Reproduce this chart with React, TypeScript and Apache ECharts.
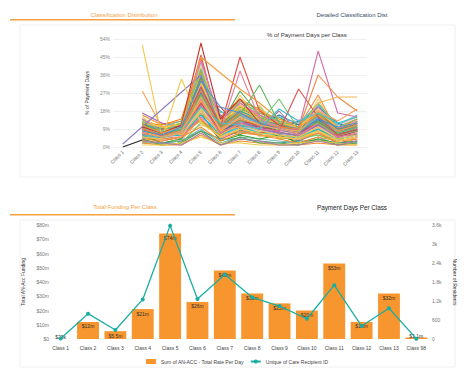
import React, { useEffect, useRef } from "react";
import * as echarts from "echarts";

const topClasses = ["Class 1", "Class 2", "Class 3", "Class 4", "Class 5", "Class 6", "Class 7", "Class 8", "Class 9", "Class 10", "Class 11", "Class 12", "Class 13"];

// % of payment days per class, one row per recipient line
const paymentDaysPct: (number | null)[][] = [
  [null, 12, 7, 9, 28, 11, 17, 13, 9, 7, 14, 6, 9],
  [null, 9, 5, 7, 22, 7, 13, 10, 8, 6, 11, 5, 7],
  [null, 7, 4, 6, 18, 6, 11, 8, 6, 4, 9, 3, 5],
  [null, 14, 10, 12, 34, 13, 21, 16, 12, 10, 18, 8, 12],
  [null, 5, 3, 5, 14, 4, 8, 6, 5, 3, 7, 2, 4],
  [null, 3, 2, 3, 9, 2, 5, 4, 3, 2, 5, 1, 3],
  [null, 16, 11, 13, 38, 15, 24, 18, 14, 11, 21, 10, 14],
  [null, 10, 8, 4, 24, 9, 6, 12, 15, 9, 8, 7, 11],
  [null, 8, 12, 6, 30, 5, 15, 7, 10, 12, 16, 4, 9],
  [null, 6, 9, 11, 26, 12, 10, 14, 6, 8, 22, 9, 6],
  [null, 11, 6, 3, 16, 10, 19, 8, 12, 5, 13, 11, 15],
  [null, 4, 7, 9, 20, 16, 8, 11, 9, 13, 10, 6, 12],
  [null, 13, 5, 8, 42, 7, 12, 9, 5, 6, 19, 3, 8],
  [null, 2, 4, 6, 11, 8, 14, 5, 8, 4, 7, 5, 2],
  [null, 9, 3, 10, 32, 4, 18, 20, 11, 7, 14, 8, 10],
  [null, 7, 10, 4, 23, 13, 7, 9, 13, 10, 12, 4, 7],
  [null, 15, 8, 7, 36, 9, 26, 13, 9, 6, 24, 7, 13],
  [null, 5, 6, 12, 19, 6, 16, 10, 7, 9, 9, 10, 5],
  [null, 11, 9, 5, 27, 18, 11, 6, 10, 3, 17, 5, 9],
  [null, 3, 5, 7, 13, 5, 9, 12, 4, 6, 6, 3, 11],
  [null, 6, 2, 4, 17, 3, 6, 4, 6, 2, 4, 2, 3],
  [null, 12, 11, 14, 44, 11, 20, 17, 13, 8, 15, 9, 14],
  [null, 8, 6, 9, 29, 8, 13, 11, 16, 11, 20, 12, 8],
  [null, 10, 4, 6, 21, 20, 9, 7, 8, 5, 11, 6, 6],
  [null, 4, 8, 5, 15, 7, 22, 15, 9, 7, 13, 4, 10],
  [null, 17, 12, 10, 39, 12, 16, 10, 7, 9, 14, 8, 12],
  [null, 7, 3, 8, 25, 5, 10, 8, 11, 14, 9, 6, 4],
  [null, 2, 2, 3, 8, 4, 4, 3, 2, 3, 3, 2, 2],
  [null, 9, 7, 12, 33, 14, 23, 19, 12, 10, 26, 7, 11],
  [null, 6, 5, 2, 12, 6, 8, 6, 5, 4, 6, 3, 5],
  [null, 13, 9, 8, 31, 7, 17, 12, 15, 12, 21, 11, 16],
  [null, 5, 4, 7, 18, 10, 12, 9, 6, 5, 8, 5, 7],
  [null, 11, 8, 10, 46, 9, 14, 11, 9, 7, 17, 9, 10],
  [null, 8, 10, 13, 37, 17, 19, 14, 10, 8, 16, 7, 13],
  [null, 3, 3, 5, 10, 3, 7, 6, 4, 2, 5, 3, 4],
  [null, 14, 7, 11, 26, 11, 28, 16, 11, 9, 13, 6, 8],
  [null, 10, 6, 5, 22, 8, 10, 21, 8, 6, 12, 8, 9],
  [null, 7, 9, 8, 35, 6, 13, 9, 18, 7, 15, 5, 12],
  [null, 10, 7, 9, 31, 9, 16, 12, 10, 8, 15, 7, 10],
  [null, 12, 9, 11, 27, 12, 19, 15, 11, 9, 17, 9, 12],
  [null, 6, 4, 6, 19, 5, 10, 8, 7, 5, 10, 4, 6],
  [null, 8, 6, 8, 24, 8, 14, 10, 9, 7, 13, 6, 9],
  [null, 11, 8, 7, 33, 10, 18, 13, 10, 8, 16, 8, 11],
  [null, 9, 7, 10, 29, 11, 16, 12, 9, 7, 14, 7, 9],
  [null, 13, 10, 9, 40, 12, 21, 14, 11, 10, 19, 9, 13],
  [null, 7, 5, 7, 21, 7, 11, 9, 7, 6, 11, 5, 7],
  [null, 5, 5, 6, 16, 6, 10, 7, 6, 5, 9, 4, 6],
  [null, 10, 8, 12, 37, 10, 20, 15, 12, 9, 17, 8, 11],
  [null, 12, 6, 8, 25, 6, 14, 11, 8, 6, 12, 6, 8],
  [null, 8, 9, 7, 34, 11, 17, 13, 10, 8, 18, 9, 12],
  [null, 9, 5, 9, 28, 8, 12, 10, 8, 6, 14, 5, 9],
  [null, 6, 7, 8, 22, 9, 13, 11, 9, 7, 12, 7, 8],
  [null, 14, 8, 10, 43, 13, 22, 16, 12, 9, 20, 9, 13],
  [null, 11, 7, 8, 30, 9, 15, 12, 10, 8, 15, 8, 10],
  [null, 7, 6, 5, 20, 7, 12, 9, 8, 6, 10, 6, 7],
  [null, 10, 9, 10, 35, 10, 18, 14, 11, 9, 16, 9, 11],
  [null, 4, 4, 5, 14, 5, 8, 6, 5, 4, 7, 3, 5],
  [null, 13, 8, 12, 39, 11, 23, 17, 13, 10, 22, 10, 14],
  [null, 8, 7, 9, 26, 9, 15, 12, 9, 7, 13, 7, 9],
  [null, 12, 10, 11, 32, 13, 19, 14, 12, 10, 18, 10, 12],
  [null, 6, 6, 7, 23, 6, 12, 9, 7, 6, 11, 6, 8],
  [null, 9, 8, 8, 30, 10, 16, 13, 10, 8, 15, 7, 10],
  [null, 2, 1, 1, 6, 1, 3, 2, 1, 1, 2, 1, 1],
  [null, 4, 1, 2, 8, 1, 5, 2, 2, 1, 4, 1, 2],
  [null, 1, 1, 2, 5, 2, 2, 1, 1, 2, 3, 2, 1],
  [null, 3, 2, 1, 7, 1, 4, 3, 1, 1, 3, 1, 3],
];

// highlighted outlier lines
const outlierPct: (number | null)[][] = [
  [null, 51, 5, 7, 19, 6, 12, 8, 6, 5, 10, 4, 6],
  [null, 28, 10, 6, 17, 8, 10, 6, 5, 4, 8, 3, 5],
  [1.5, null, null, null, 36, 9, 13, 9, 7, 6, 11, 5, 8],
  [0, 3.5, null, null, null, null, null, null, null, null, null, null, null],
  [null, 5, 4, 34, 12, 5, 9, 7, 5, 4, 8, 3, 5],
  [null, 10, 7, 11, 52, 14, 24, 12, 9, 7, 13, 5, 8],
  [null, 9, 6, 8, 30, 10, 45, 18, 11, 8, 12, 6, 9],
  [null, 7, 5, 7, 24, 8, 38, 14, 10, 6, 12, 5, 7],
  [null, 11, 7, 10, 45, null, 29, 22, 14, 10, 16, 8, 11],
  [null, 8, 6, 9, 26, 10, 16, 31, 12, 8, 13, 7, 10],
  [null, 6, 5, 7, 20, 9, 13, 12, 24, 9, 12, 6, 8],
  [null, 7, 6, 8, 22, 8, 14, 10, 8, 29, 15, 6, 9],
  [null, 6, 5, 7, 21, 7, 12, 9, 8, 9, 48, 17, 15],
  [null, 9, 6, 8, 28, 9, 17, 12, 10, 9, 36, 25, 18],
  [null, 8, 5, 7, 25, 8, 15, 11, 9, 8, 22, 25, 25],
  [null, 6, 5, 8, 20, 12, 11, 9, 19, 13, 17, 12, 15],
  [null, 8, 6, 10, 33, 20, 17, 12, 9, 7, 14, 10, 12],
  [null, 7, 5, 8, 23, 9, 14, 11, 9, 7, 18, 13, 19],
];
const outlierColors = [
  "#f5c242", "#f7a84a", "#8e7cc3", "#222222", "#f3c84b", "#c0392b", "#e74c3c", "#e57fa0", "#f39c3d",
  "#5cb85c", "#6cc46a", "#d9534f", "#d36fa6", "#f0883e", "#f7b55a", "#3fc1d0", "#4a90d9", "#f4a261",
];

const lineColors = [
  "#f58a3f", "#7ac36a", "#5bc0de", "#f5c242", "#e15759", "#76b7b2", "#f28e2b", "#59a14f",
  "#edc948", "#b07aa1", "#ff9da7", "#4e79a7", "#a0cbe8", "#ffbe7d", "#8cd17d", "#86bcb6",
  "#f1ce63", "#d37295", "#17becf", "#bcbd22", "#2ca02c", "#ff7f0e", "#1f77b4", "#d62728",
  "#e377c2", "#9467bd", "#fabfd2", "#499894",
];

const bottomClasses = ["Class 1", "Class 2", "Class 3", "Class 4", "Class 5", "Class 6", "Class 7", "Class 8", "Class 9", "Class 10", "Class 11", "Class 12", "Class 13", "Class 98"];
const fundingMillions = [0.029, 12, 5.5, 21, 74, 26, 48, 32, 25, 20, 53, 12, 32, 1.1];
const residents = [15, 800, 285, 1250, 3580, 1260, 2040, 1315, 1040, 640, 1700, 410, 970, 10];

const FONT = "'Liberation Sans', Arial, sans-serif";
const ORANGE = "#f7962e";
const TEAL = "#1aaea3";
const TAB_ORANGE = "#f5a142";

function fmtFunding(v: number) {
  if (v < 1) return `$${Math.round(v * 1000)}k`;
  return `$${v}m`;
}

export default function App() {
  const ref = useRef<HTMLDivElement>(null);
  useEffect(() => {
    if (!ref.current) return;
    const chart = echarts.init(ref.current, undefined, { renderer: "svg" });
    const mkLine = (row: (number | null)[], color: string, z: number, name: string) => ({
      type: "line",
      name,
      xAxisIndex: 0,
      yAxisIndex: 0,
      data: row,
      symbol: "none",
      connectNulls: true,
      silent: true,
      lineStyle: { width: 1.1, color },
      itemStyle: { color },
      z,
    });
    const topSeries = [
      ...paymentDaysPct.map((row, i) => mkLine(row, lineColors[i % lineColors.length], 2, `r${i}`)),
      ...outlierPct.map((row, i) => mkLine(row, outlierColors[i], 3, `o${i}`)),
    ];
    const option: any = {
      animation: false,
      textStyle: { fontFamily: FONT },
      title: {
        text: "% of Payment Days per Class",
        left: 262,
        top: 27,
        textStyle: { fontSize: 6, fontWeight: "normal", color: "#333", fontFamily: FONT },
      },
      legend: {
        data: [
          { name: "Sum of AN-ACC - Total Rate Per Day", icon: "rect" },
          { name: "Unique of Care Recipient ID" },
        ],
        left: "center",
        top: 354,
        itemWidth: 10,
        itemHeight: 5,
        itemGap: 6,
        textStyle: { fontSize: 5, color: "#444", fontFamily: FONT },
      },
      graphic: [
        { type: "rect", shape: { x: 20, y: 25, width: 435, height: 152 }, style: { fill: "none", stroke: "#efefef", lineWidth: 1 }, silent: true },
        { type: "rect", shape: { x: 20, y: 220, width: 435, height: 147 }, style: { fill: "none", stroke: "#efefef", lineWidth: 1 }, silent: true },
        { type: "text", x: 124, y: 15, style: { text: "Classification Distribution", fill: TAB_ORANGE, fontSize: 6, fontFamily: FONT, align: "center", verticalAlign: "middle" } },
        { type: "rect", shape: { x: 10, y: 19, width: 225, height: 1.6 }, style: { fill: TAB_ORANGE } },
        { type: "text", x: 352, y: 15, style: { text: "Detailed Classification Dist", fill: "#3b4a66", fontSize: 6, fontFamily: FONT, align: "center", verticalAlign: "middle" } },
        { type: "text", x: 125, y: 207, style: { text: "Total Funding Per Class", fill: TAB_ORANGE, fontSize: 6, fontFamily: FONT, align: "center", verticalAlign: "middle" } },
        { type: "rect", shape: { x: 10, y: 214, width: 225, height: 1.6 }, style: { fill: TAB_ORANGE } },
        { type: "text", x: 352, y: 207, style: { text: "Payment Days Per Class", fill: "#222", fontSize: 6.3, fontFamily: FONT, align: "center", verticalAlign: "middle" } },
      ],
      grid: [
        { left: 113, right: 107, top: 39, bottom: 235, containLabel: false },
        { left: 47, right: 44, top: 225, bottom: 43, containLabel: false },
      ],
      xAxis: [
        {
          type: "category",
          gridIndex: 0,
          data: topClasses,
          boundaryGap: true,
          axisLine: { show: false },
          axisTick: { show: false },
          axisLabel: { rotate: 45, fontSize: 5, color: "#666", margin: 4, interval: 0 },
        },
        {
          type: "category",
          gridIndex: 1,
          data: bottomClasses,
          axisLine: { show: false },
          axisTick: { show: false },
          axisLabel: { fontSize: 5, color: "#444", margin: 6, interval: 0 },
        },
      ],
      yAxis: [
        {
          type: "value",
          gridIndex: 0,
          min: 0,
          max: 54,
          interval: 9,
          name: "% of Payment Days",
          nameLocation: "middle",
          nameGap: 12,
          nameTextStyle: { fontSize: 5, color: "#333" },
          axisLine: { show: false },
          axisTick: { show: false },
          axisLabel: { fontSize: 5, color: "#888", formatter: "{value}%", margin: 3 },
          splitLine: { lineStyle: { color: "#efefef" } },
        },
        {
          type: "value",
          gridIndex: 1,
          min: 0,
          max: 80,
          interval: 10,
          name: "Total AN-Acc Funding",
          nameLocation: "middle",
          nameGap: 11,
          nameTextStyle: { fontSize: 5, color: "#333" },
          axisLine: { show: false },
          axisTick: { show: false },
          axisLabel: { fontSize: 5, color: "#777", margin: -2, formatter: (v: number) => (v === 0 ? "$0" : `$${v}m`) },
          splitLine: { show: false },
        },
        {
          type: "value",
          gridIndex: 1,
          position: "right",
          min: 0,
          max: 3600,
          interval: 600,
          name: "Number of Residents",
          nameLocation: "middle",
          nameRotate: -90,
          nameGap: 11,
          nameTextStyle: { fontSize: 5, color: "#333" },
          axisLine: { show: false },
          axisTick: { show: false },
          axisLabel: { fontSize: 5, color: "#777", margin: 2, formatter: (v: number) => (v >= 1000 ? `${v / 1000}k` : `${v}`) },
          splitLine: { show: false },
        },
      ],
      series: [
        ...topSeries,
        {
          type: "bar",
          name: "Sum of AN-ACC - Total Rate Per Day",
          xAxisIndex: 1,
          yAxisIndex: 1,
          barWidth: "80%",
          itemStyle: { color: ORANGE },
          data: fundingMillions.map((v) => ({
            value: v,
            label: v < 2 ? { position: "top", distance: -1 } : undefined,
          })),
          label: {
            show: true,
            position: "insideTop",
            distance: 2,
            fontSize: 5,
            color: "#333",
            formatter: (p: any) => fmtFunding(p.value),
          },
          z: 2,
        },
        {
          type: "line",
          name: "Unique of Care Recipient ID",
          xAxisIndex: 1,
          yAxisIndex: 2,
          data: residents,
          symbol: "circle",
          symbolSize: 4,
          lineStyle: { color: TEAL, width: 1.3 },
          itemStyle: { color: TEAL },
          z: 5,
        },
      ],
    };
    chart.setOption(option);
    return () => chart.dispose();
  }, []);
  return <div ref={ref} style={{ position: "fixed", left: 0, top: 0, width: 474, height: 382, background: "#fff" }} />;
}
